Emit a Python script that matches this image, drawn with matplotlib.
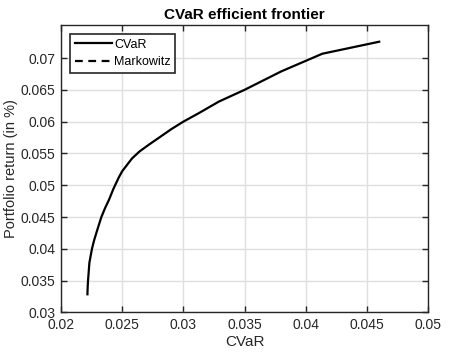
import matplotlib.pyplot as plt

plt.rcParams['font.family'] = ['Liberation Sans', 'DejaVu Sans']

# CVaR frontier
cvar_risk = [0.02216, 0.02218, 0.02221, 0.02232, 0.02253, 0.02270, 0.02289,
             0.02310, 0.0233, 0.02360, 0.02392, 0.02430, 0.02472, 0.02500,
             0.02532, 0.02580, 0.02641, 0.02720, 0.02803, 0.0290, 0.0300,
             0.03125, 0.0329, 0.0350, 0.0380, 0.04136, 0.04601]
cvar_ret = [0.03285, 0.0340, 0.0350, 0.0378, 0.0400, 0.0413, 0.0425,
            0.0438, 0.0450, 0.0464, 0.0477, 0.0495, 0.05121, 0.0522,
            0.0530, 0.0542, 0.0553, 0.0564, 0.0575, 0.0588, 0.0600,
            0.06132, 0.06315, 0.0650, 0.0679, 0.07068, 0.07257]
# Markowitz series: not visible in the plot, only in the legend
mark_risk = []
mark_ret = []

xticks = [0.02, 0.025, 0.03, 0.035, 0.04, 0.045, 0.05]
xlabels = ['0.02', '0.025', '0.03', '0.035', '0.04', '0.045', '0.05']
yticks = [0.03, 0.035, 0.04, 0.045, 0.05, 0.055, 0.06, 0.065, 0.07]
ylabels = ['0.03', '0.035', '0.04', '0.045', '0.05', '0.055', '0.06', '0.065', '0.07']

axcol = '#262626'
fig = plt.figure(figsize=(4.74, 3.55), dpi=100)
ax = fig.add_axes([0.1287, 0.120, 0.7743, 0.8096])
ax.plot(cvar_risk, cvar_ret, color='black', lw=1.6, label='CVaR')
ax.plot(mark_risk, mark_ret, color='black', lw=1.6, ls='--', dashes=(3.5, 2.5),
        label='Markowitz')

ax.set_xlim(0.02, 0.05)
ax.set_ylim(0.03, 0.0752)
ax.set_xticks(xticks)
ax.set_xticklabels(xlabels)
ax.set_yticks(yticks)
ax.set_yticklabels(ylabels)
ax.tick_params(direction='in', top=True, right=True, length=4, width=1,
               colors=axcol, labelsize=10, labelcolor=axcol, pad=4)
for s in ax.spines.values():
    s.set_color(axcol)
    s.set_linewidth(1)
ax.grid(True, color='#dfdfdf', lw=1)
ax.set_axisbelow(True)

ax.set_xlabel('CVaR', fontsize=11, color=axcol, labelpad=2)
ax.set_ylabel('Portfolio return (in %)', fontsize=10.5, color=axcol, labelpad=2)
ax.set_title('CVaR efficient frontier', fontsize=11, fontweight='bold', pad=4)

leg = ax.legend(loc='upper left', fontsize=9, handlelength=3.0, handletextpad=0.15,
                borderpad=0.35, labelspacing=0.45, fancybox=False, framealpha=1,
                edgecolor=axcol, borderaxespad=0.75)
leg.get_frame().set_linewidth(1.2)

plt.savefig('out.png', dpi=100)
